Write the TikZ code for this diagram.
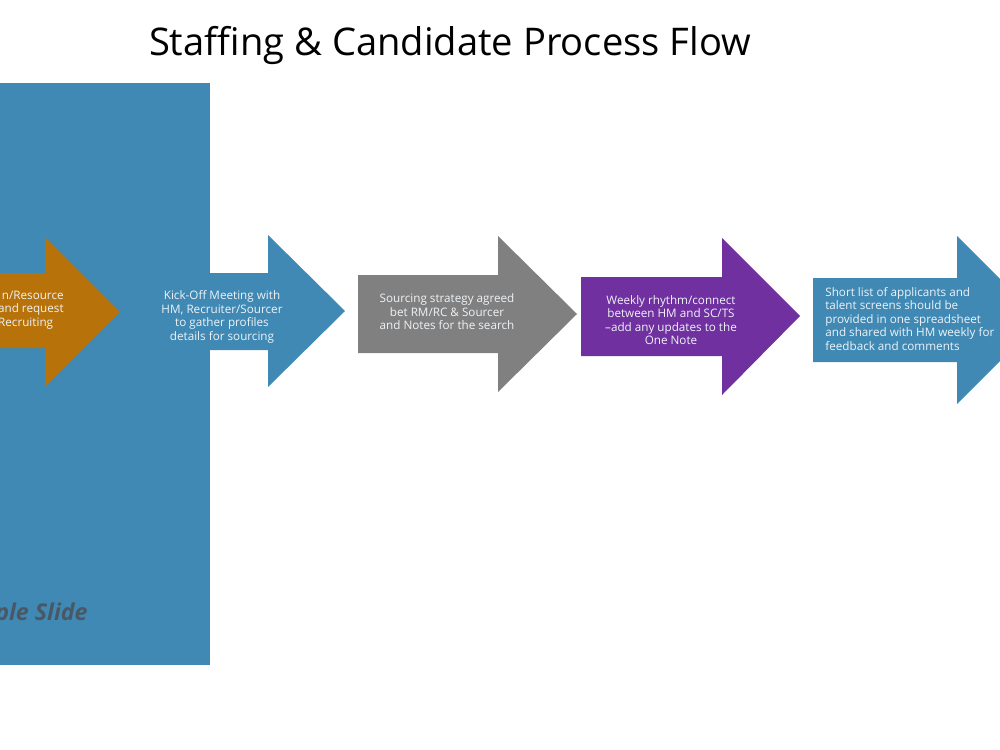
\documentclass[tikz,border=0pt]{standalone}
\usepackage{fontspec}
\setmainfont{Open Sans}
\definecolor{stblue}{HTML}{3F89B4}
\definecolor{storange}{HTML}{B8720A}
\definecolor{stgray}{HTML}{808080}
\definecolor{stpurple}{HTML}{7030A0}
\definecolor{sttext}{HTML}{EEF3F7}
\definecolor{stslate}{HTML}{4A5866}
\tikzset{
  arrowfill/.style={fill=#1, draw=none},
  steptext/.style={text=sttext, font=\fontsize{6.65}{7.7}\selectfont, inner sep=0pt},
}
\begin{document}
\begin{tikzpicture}[x=0.02cm, y=-0.02cm]
\useasboundingbox (0,0) rectangle (1000,750);
\clip (0,0) rectangle (1000,750);
\fill[white] (0,0) rectangle (1000,750);
% big background panel
\fill[stblue] (0,83) rectangle (210,665);
\node[anchor=east, text=stslate, font=\fontsize{13.2}{16}\selectfont\bfseries\itshape, inner sep=0pt] (sample) at (88,614) {ple Slide};
% arrows
\fill[arrowfill=storange] (-20,273) -- (45,273) -- (45,237) -- (120,312) -- (45,387) -- (45,348) -- (-20,348) -- cycle;
\fill[arrowfill=stblue] (200,273) -- (268,273) -- (268,235) -- (345,311) -- (268,387) -- (268,350) -- (200,350) -- cycle;
\fill[arrowfill=stgray] (358,275) -- (498,275) -- (498,236) -- (577,314) -- (498,392) -- (498,353) -- (358,353) -- cycle;
\fill[arrowfill=stpurple] (581,277) -- (722,277) -- (722,238) -- (800,316) -- (722,395) -- (722,356) -- (581,356) -- cycle;
\fill[arrowfill=stblue] (813,278) -- (957,278) -- (957,236) -- (1041,320) -- (957,404) -- (957,362) -- (813,362) -- cycle;
% texts
\node[steptext, align=right, anchor=east] (t1) at (64,310) {n/Resource\\and request\\Recruiting\hspace*{6pt}};
\node[steptext, align=center] (t2) at (222,317) {Kick-Off Meeting with\\HM, Recruiter/Sourcer\\to gather profiles\\details for sourcing};
\node[steptext, align=center] (t3) at (447,312) {Sourcing strategy agreed\\bet RM/RC \& Sourcer\\and Notes for the search};
\node[steptext, align=center] (t4) at (671,320) {Weekly rhythm/connect\\between HM and SC/TS\\--add any updates to the\\One Note};
\node[steptext, align=left, anchor=west] (t5) at (825,319) {Short list of applicants and\\talent screens should be\\provided in one spreadsheet\\and shared with HM weekly for\\feedback and comments};
% title
\node[font=\fontsize{21.7}{26}\selectfont, text=black, inner sep=0pt] (title) at (450,45) {Staffing \& Candidate Process Flow};
\end{tikzpicture}
\end{document}
